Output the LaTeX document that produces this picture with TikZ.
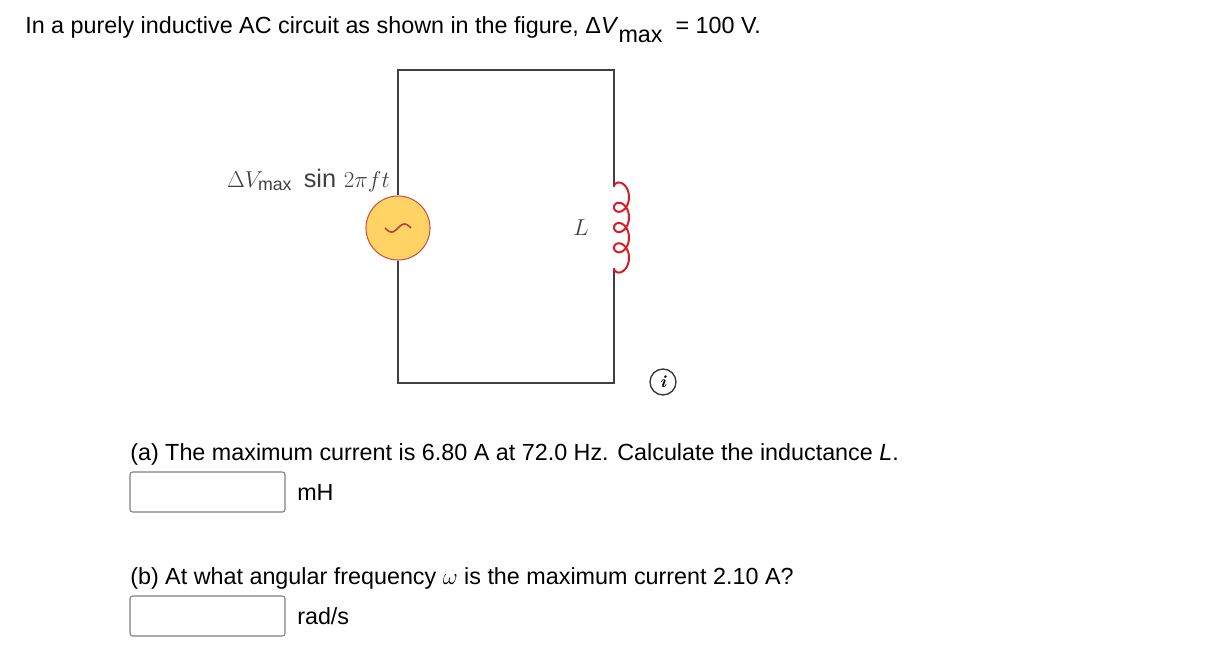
\documentclass[tikz,border=0pt]{standalone}
\usepackage{fontspec}
\setmainfont{Liberation Sans}
\newfontfamily\lmserif{Latin Modern Roman}
\definecolor{coilred}{RGB}{215,30,40}
\definecolor{srcfill}{RGB}{255,212,100}
\definecolor{srcedge}{RGB}{205,80,70}
\definecolor{wavered}{RGB}{190,60,60}
\begin{document}
\begin{tikzpicture}[x=0.75pt,y=-0.75pt,
  txt/.style={anchor=base west,inner sep=0pt,font=\fontsize{17.5pt}{20pt}\selectfont},
  wire/.style={draw=black!75,line width=1.3pt},
  ansbox/.style={draw=black!50,line width=0.8pt,rounded corners=2pt}]
\useasboundingbox (0,0) rectangle (1224,662);
\node[txt] (title) at (25,33) {In a purely inductive AC circuit as shown in the figure, Δ\textit{V}\raisebox{-7pt}{max} \ = 100 V.};
% circuit
\coordinate (tl) at (398,70); \coordinate (tr) at (614,70);
\coordinate (bl) at (398,383); \coordinate (br) at (614,383);
\coordinate (ctop) at (614,187); \coordinate (cbot) at (614,268);
\node[circle,minimum size=48pt,inner sep=0pt,fill=srcfill,draw=srcedge,line width=0.8pt] (src) at (398,228) {};
\draw[wire] (src.north) -- (tl) -- (tr) -- (ctop);
\draw[wire] (cbot) -- (br) -- (bl) -- (src.south);
\draw[coilred,line width=1.5pt,smooth]
  plot[domain=0:1440,samples=240,variable=\t] ({614+7.5*(1-cos(\t))},{187+\t/1440*81-9*sin(\t)});
\draw[wavered,line width=1.2pt]
  plot[domain=-180:180,samples=60,variable=\t,smooth] ({398+\t/180*13},{228-4*sin(\t)});
\node[anchor=base east,inner sep=0pt,font=\lmserif\fontsize{19pt}{20pt}\selectfont,text=black!75] (vlab) at (390,187) {$\Delta V_{\mathrm{max}}\ \sin\,2\pi ft$};
\node[inner sep=0pt,font=\lmserif\fontsize{19pt}{20pt}\selectfont,text=black!75] (llab) at (581,228) {$L$};
% info icon
\node[circle,draw=black!80,line width=1pt,minimum size=19.5pt,inner sep=0pt,font=\lmserif\itshape\bfseries\fontsize{13pt}{14pt}\selectfont] (info) at (663,382) {i};
% questions
\node[txt] (qa) at (130,460) {(a) The maximum current is 6.80 A at 72.0 Hz. Calculate the inductance \textit{L}.};
\draw[ansbox] (130,472) rectangle (285,512);
\node[txt] (ua) at (297,500) {mH};
\node[txt] (qb) at (130,584) {(b) At what angular frequency {\lmserif$\omega$} is the maximum current 2.10 A?};
\draw[ansbox] (130,596) rectangle (285,636);
\node[txt] (ub) at (297,624) {rad/s};
\end{tikzpicture}
\end{document}
